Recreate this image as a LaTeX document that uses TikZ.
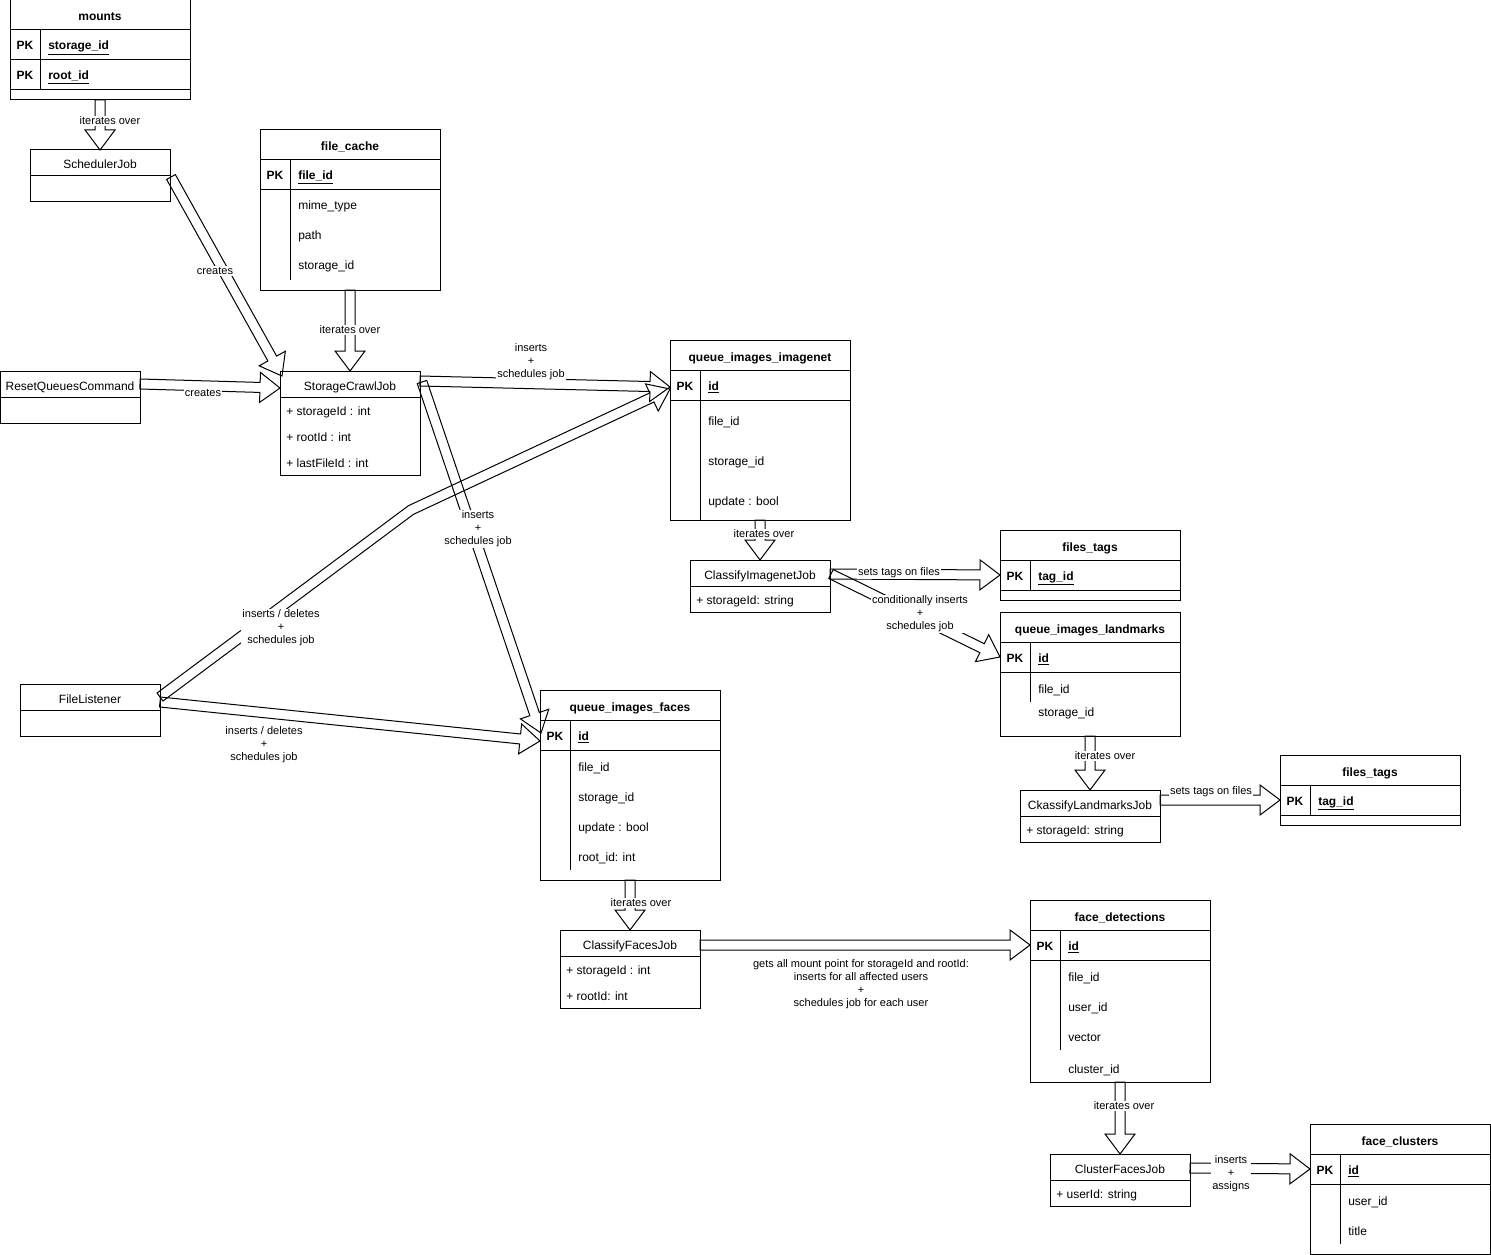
\documentclass[tikz,border=0pt]{standalone}
\usepackage{fontspec}
\setmainfont{Liberation Sans}
\usetikzlibrary{calc}
\tikzset{
 ent/.style={draw, line width=0.75pt, inner sep=0pt, outer sep=0pt, anchor=north west},
 sep/.style={line width=0.75pt},
 ttl/.style={font=\bfseries\fontsize{9}{11}\selectfont, inner sep=0pt, anchor=base, yshift=-0.75pt},
 pk/.style={font=\bfseries\fontsize{9}{11}\selectfont, inner sep=0pt, anchor=base},
 key/.style={font=\bfseries\fontsize{9}{11}\selectfont, inner sep=0pt, anchor=base west},
 fld/.style={font=\fontsize{9}{11}\selectfont, inner sep=0pt, anchor=base west},
 cls/.style={font=\fontsize{9}{11}\selectfont, inner sep=0pt, anchor=base, yshift=-0.75pt},
 lbl/.style={font=\fontsize{8.25}{9.75}\selectfont, fill=white, inner sep=1pt, align=center, yshift=-0.75pt},
 lblm/.style={lbl, yshift=-0.75pt},
 flexline/.style={line width=0.75pt, line join=miter},
}
\newcommand\ulk[1]{\underline{#1}}
\newcommand\etext[5][fld]{\node[#1] (#2) at (#3,#4) {#5};}
\newcommand\flexar[2]{%
  \coordinate (fhb) at ($(#2)!15pt!(#1)$);
  \draw[flexline] ($(#1)!3.75pt!90:(#2)$) -- ($(fhb)!3.75pt!90:(#2)$) -- ($(fhb)!11.25pt!90:(#2)$) -- (#2) -- ($(fhb)!11.25pt!-90:(#2)$) -- ($(fhb)!3.75pt!-90:(#2)$) -- ($(#1)!3.75pt!-90:(#2)$) -- cycle;}
\newcommand\flexbent[3]{%
  \coordinate (fhb) at ($(#3)!15pt!(#2)$);
  \coordinate (fo1) at ($(#1)!3.75pt!90:(#3)$);
  \coordinate (fo2) at ($(#1)!3.75pt!-90:(#3)$);
  \draw[flexline] ($(#1)!3.75pt!90:(#2)$) -- ($(#2)+(fo1)-(#1)$) -- ($(fhb)!3.75pt!90:(#3)$) -- ($(fhb)!11.25pt!90:(#3)$) -- (#3) -- ($(fhb)!11.25pt!-90:(#3)$) -- ($(fhb)!3.75pt!-90:(#3)$) -- ($(#2)+(fo2)-(#1)$) -- ($(#1)!3.75pt!-90:(#2)$) -- cycle;}
\begin{document}
\begin{tikzpicture}[x=0.75pt,y=-0.75pt]
\useasboundingbox[fill=white] (0,0) rectangle (1491,1255);

% ---------- mounts
\node[ent,minimum width=135pt,minimum height=75pt] (mounts) at (10,0) {};
\draw[sep] (10,30)--(190,30) (10,60)--(190,60) (10,90)--(190,90) (40,30)--(40,90);
\etext[ttl]{mountsT}{100}{20}{mounts}
\etext[pk]{mountsP1}{25}{50}{PK}
\etext[key]{mountsF1}{48}{50}{\ulk{storage\_id}}
\etext[pk]{mountsP2}{25}{80}{PK}
\etext[key]{mountsF2}{48}{80}{\ulk{root\_id}}

% ---------- file_cache
\node[ent,minimum width=135pt,minimum height=120pt] (filecache) at (260,130) {};
\draw[sep] (260,160)--(440,160) (260,190)--(440,190) (290,160)--(290,280);
\etext[ttl]{fcT}{350}{150}{file\_cache}
\etext[pk]{fcP}{275}{180}{PK}
\etext[key]{fcF1}{298}{180}{\ulk{file\_id}}
\etext{fcF2}{298}{210}{mime\_type}
\etext{fcF3}{298}{240}{path}
\etext{fcF4}{298}{270}{storage\_id}

% ---------- SchedulerJob
\node[ent,minimum width=105pt,minimum height=39pt] (sched) at (30,150) {};
\draw[sep] (30,176)--(170,176);
\etext[cls]{schedT}{100}{168}{SchedulerJob}

% ---------- ResetQueuesCommand
\node[ent,minimum width=105pt,minimum height=39pt] (reset) at (0,371) {};
\draw[sep] (0,397)--(140,397);
\etext[cls]{resetT}{70}{389}{ResetQueuesCommand}

% ---------- StorageCrawlJob
\node[ent,minimum width=105pt,minimum height=78pt] (crawl) at (280,371) {};
\draw[sep] (280,397)--(420,397);
\etext[cls]{crawlT}{350}{389}{StorageCrawlJob}
\etext{crawlF1}{286}{415}{+ storageId : int}
\etext{crawlF2}{286}{441}{+ rootId : int}
\etext{crawlF3}{286}{467}{+ lastFileId : int}

% ---------- queue_images_imagenet
\node[ent,minimum width=135pt,minimum height=135pt] (imagenet) at (670,340) {};
\draw[sep] (670,370)--(850,370) (670,400)--(850,400) (700,370)--(700,520);
\etext[ttl]{imT}{760}{360}{queue\_images\_imagenet}
\etext[pk]{imP}{685}{390}{PK}
\etext[key]{imF1}{708}{390}{\ulk{id}}
\etext{imF2}{708}{425}{file\_id}
\etext{imF3}{708}{465}{storage\_id}
\etext{imF4}{708}{505}{update : bool}

% ---------- ClassifyImagenetJob
\node[ent,minimum width=105pt,minimum height=39pt] (classimg) at (690,560) {};
\draw[sep] (690,586)--(830,586);
\etext[cls]{ciT}{760}{578}{ClassifyImagenetJob}
\etext{ciF1}{696}{604}{+ storageId: string}

% ---------- files_tags (1)
\node[ent,minimum width=135pt,minimum height=52.5pt] (ftagsA) at (1000,530) {};
\draw[sep] (1000,560)--(1180,560) (1000,590)--(1180,590) (1030,560)--(1030,590);
\etext[ttl]{ftaT}{1090}{550}{files\_tags}
\etext[pk]{ftaP}{1015}{580}{PK}
\etext[key]{ftaF}{1038}{580}{\ulk{tag\_id}}

% ---------- queue_images_landmarks
\node[ent,minimum width=135pt,minimum height=93pt] (landmarks) at (1000,612) {};
\draw[sep] (1000,642)--(1180,642) (1000,672)--(1180,672) (1030,642)--(1030,702);
\etext[ttl]{lmT}{1090}{632}{queue\_images\_landmarks}
\etext[pk]{lmP}{1015}{662}{PK}
\etext[key]{lmF1}{1038}{662}{\ulk{id}}
\etext{lmF2}{1038}{693}{file\_id}
\etext{lmF3}{1038}{716}{storage\_id}

% ---------- FileListener
\node[ent,minimum width=105pt,minimum height=39pt] (flist) at (20,684) {};
\draw[sep] (20,710)--(160,710);
\etext[cls]{flT}{90}{702}{FileListener}

% ---------- queue_images_faces
\node[ent,minimum width=135pt,minimum height=142.5pt] (faces) at (540,690) {};
\draw[sep] (540,720)--(720,720) (540,750)--(720,750) (570,720)--(570,870);
\etext[ttl]{qfT}{630}{710}{queue\_images\_faces}
\etext[pk]{qfP}{555}{740}{PK}
\etext[key]{qfF1}{578}{740}{\ulk{id}}
\etext{qfF2}{578}{771}{file\_id}
\etext{qfF3}{578}{801}{storage\_id}
\etext{qfF4}{578}{831}{update : bool}
\etext{qfF5}{578}{861}{root\_id: int}

% ---------- ClassifyFacesJob
\node[ent,minimum width=105pt,minimum height=58.5pt] (classfaces) at (560,930) {};
\draw[sep] (560,956)--(700,956);
\etext[cls]{cfT}{630}{948}{ClassifyFacesJob}
\etext{cfF1}{566}{974}{+ storageId : int}
\etext{cfF2}{566}{1000}{+ rootId: int}

% ---------- CkassifyLandmarksJob
\node[ent,minimum width=105pt,minimum height=39pt] (classlm) at (1020,790) {};
\draw[sep] (1020,816)--(1160,816);
\etext[cls]{clT}{1090}{808}{CkassifyLandmarksJob}
\etext{clF1}{1026}{834}{+ storageId: string}

% ---------- files_tags (2)
\node[ent,minimum width=135pt,minimum height=52.5pt] (ftagsB) at (1280,755) {};
\draw[sep] (1280,785)--(1460,785) (1280,815)--(1460,815) (1310,785)--(1310,815);
\etext[ttl]{ftbT}{1370}{775}{files\_tags}
\etext[pk]{ftbP}{1295}{805}{PK}
\etext[key]{ftbF}{1318}{805}{\ulk{tag\_id}}

% ---------- face_detections
\node[ent,minimum width=135pt,minimum height=136.5pt] (facedet) at (1030,900) {};
\draw[sep] (1030,930)--(1210,930) (1030,960)--(1210,960) (1060,930)--(1060,1050);
\etext[ttl]{fdT}{1120}{920}{face\_detections}
\etext[pk]{fdP}{1045}{950}{PK}
\etext[key]{fdF1}{1068}{950}{\ulk{id}}
\etext{fdF2}{1068}{981}{file\_id}
\etext{fdF3}{1068}{1011}{user\_id}
\etext{fdF4}{1068}{1041}{vector}
\etext{fdF5}{1068}{1073}{cluster\_id}

% ---------- ClusterFacesJob
\node[ent,minimum width=105pt,minimum height=39pt] (cluster) at (1050,1154) {};
\draw[sep] (1050,1180)--(1190,1180);
\etext[cls]{cjT}{1120}{1172}{ClusterFacesJob}
\etext{cjF1}{1056}{1198}{+ userId: string}

% ---------- face_clusters
\node[ent,minimum width=135pt,minimum height=97.5pt] (faceclusters) at (1310,1124) {};
\draw[sep] (1310,1154)--(1490,1154) (1310,1184)--(1490,1184) (1340,1154)--(1340,1244);
\etext[ttl]{fcsT}{1400}{1144}{face\_clusters}
\etext[pk]{fcsP}{1325}{1174}{PK}
\etext[key]{fcsF1}{1348}{1174}{\ulk{id}}
\etext{fcsF2}{1348}{1205}{user\_id}
\etext{fcsF3}{1348}{1235}{title}

% ---------- connector end points
\coordinate (a2s) at ($(sched.north east)+(1,27)$);
\coordinate (a2e) at ($(crawl.north west)+(2,5)$);
\coordinate (a3s) at ($(reset.north east)+(0,13)$);
\coordinate (a3e) at ($(crawl.north west)+(0,17)$);
\coordinate (a5s) at ($(crawl.north east)+(0,10)$);
\coordinate (a5e) at ($(imagenet.north west)+(0,47)$);
\coordinate (a6s) at ($(crawl.north east)+(2,11)$);
\coordinate (a6e) at ($(faces.north west)+(1,43)$);
\coordinate (a7s) at ($(flist.north east)+(0,13)$);
\coordinate (a7w) at (411,510);
\coordinate (a7e) at ($(imagenet.north west)+(0,49)$);
\coordinate (a8s) at ($(flist.north east)+(0,18)$);
\coordinate (a8e) at ($(faces.north west)+(0,51)$);
\coordinate (a10s) at ($(classimg.north east)+(0,14)$);
\coordinate (a10e) at ($(ftagsA.north west)+(0,45)$);
\coordinate (a11s) at ($(classimg.north east)+(1,14)$);
\coordinate (a11e) at ($(landmarks.north west)+(0,45)$);
\coordinate (a13s) at ($(classlm.north east)+(0,10)$);
\coordinate (a13e) at ($(ftagsB.north west)+(0,45)$);
\coordinate (a15s) at ($(classfaces.north east)+(0,15)$);
\coordinate (a15e) at ($(facedet.north west)+(0,45)$);
\coordinate (a17s) at ($(cluster.north east)+(0,14)$);
\coordinate (a17e) at ($(faceclusters.north west)+(0,45)$);

% ---------- connectors
\flexar{mounts.south}{sched.north}
\flexar{a2s}{a2e}
\flexar{a3s}{a3e}
\flexar{filecache.south}{crawl.north}
\flexar{a5s}{a5e}
\flexar{a6s}{a6e}
\flexbent{a7s}{a7w}{a7e}
\flexar{a8s}{a8e}
\flexar{imagenet.south}{classimg.north}
\flexar{a10s}{a10e}
\flexar{a11s}{a11e}
\flexar{landmarks.south}{classlm.north}
\flexar{a13s}{a13e}
\flexar{faces.south}{classfaces.north}
\flexar{a15s}{a15e}
\flexar{facedet.south}{cluster.north}
\flexar{a17s}{a17e}

% ---------- connector labels
\node[lbl] (l1) at (110,120) {iterates over};
\node[lbl] (l2) at (215,270) {creates};
\node[lbl] (l3) at (203,392) {creates};
\node[lbl] (l4) at (350,329) {iterates over};
\node[lblm] (l5) at (531,360) {inserts\\+\\schedules job};
\node[lblm] (l6) at (478,527) {inserts\\+\\schedules job};
\node[lblm] (l7) at (281,626) {inserts / deletes\\+\\schedules job};
\node[lblm] (l8) at (264,743) {inserts / deletes\\+\\schedules job};
\node[lbl] (l9) at (764,533) {iterates over};
\node[lbl] (l10) at (899,572) {sets tags on files};
\node[lblm] (l11) at (920,612) {conditionally inserts\\+\\schedules job};
\node[lbl] (l12) at (1105,755) {iterates over};
\node[lbl] (l13) at (1211,791) {sets tags on files};
\node[lbl] (l14) at (641,902) {iterates over};
\node[lbl] (l15) at (861,983) {gets all mount point for storageId and rootId:\\inserts for all affected users\\+\\schedules job for each user};
\node[lbl] (l16) at (1124,1105) {iterates over};
\node[lblm] (l17) at (1231,1172) {inserts\\+\\assigns};
\end{tikzpicture}
\end{document}
